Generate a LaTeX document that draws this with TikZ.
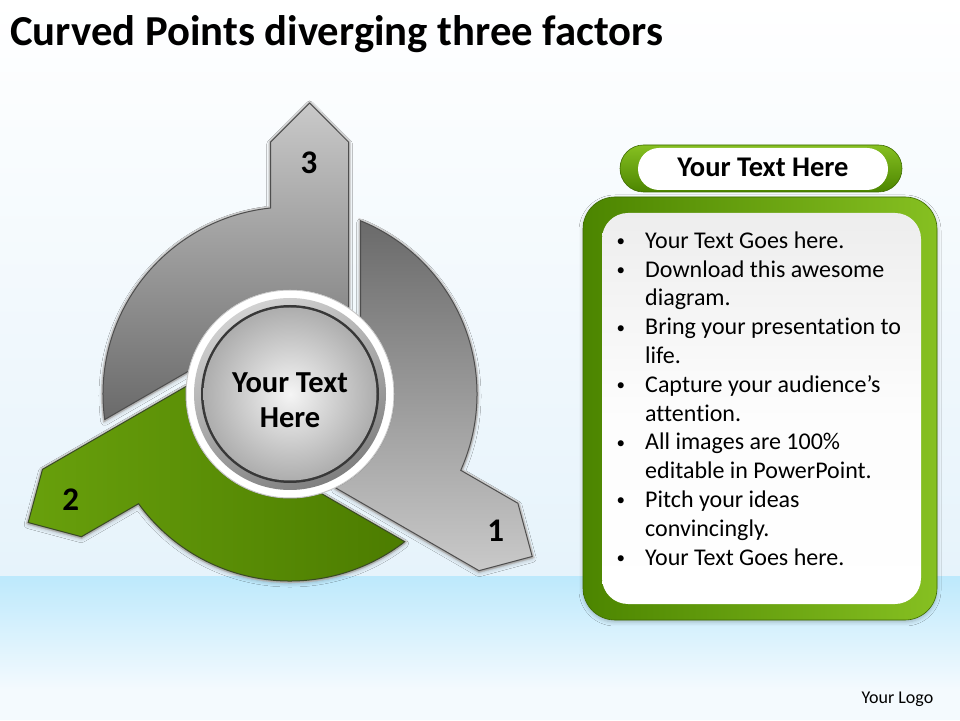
\documentclass[tikz,border=0pt]{standalone}
\usepackage{fontspec}
\setmainfont{Carlito}[Ligatures={NoCommon}]
\usetikzlibrary{shadows.blur}
\definecolor{bgtop}{HTML}{FFFFFF}
\definecolor{bgbot}{HTML}{E6F3FB}
\definecolor{bandA}{HTML}{BDE9FC}
\definecolor{bandB}{HTML}{F4FAFE}
\definecolor{edgegray}{HTML}{4E4E4E}
\definecolor{edgegreen}{HTML}{3A4A26}
\definecolor{halo}{HTML}{D4D4D4}
\definecolor{gLight}{HTML}{C9C9C9}
\definecolor{gMid}{HTML}{9E9E9E}
\definecolor{gDark}{HTML}{6A6A6A}
\definecolor{grA}{HTML}{68A00C}
\definecolor{grB}{HTML}{4C7C00}
\definecolor{panA}{HTML}{4C8500}
\definecolor{panB}{HTML}{86C021}
\tikzset{
  segbase/.style={draw=edgegray, line width=1pt, line join=miter,
    preaction={draw=halo, line width=4pt},
    blur shadow={shadow xshift=0pt, shadow yshift=-2pt, shadow blur radius=4pt, shadow opacity=30}},
  numlabel/.style={font=\fontsize{33}{33}\selectfont\bfseries, inner sep=0pt},
  bullettext/.style={font=\fontsize{24}{28.8}\selectfont, anchor=base west, inner sep=0pt}
}
\newcommand{\smallbul}{\raisebox{1.5pt}{\fontsize{17}{17}\selectfont •}}
\begin{document}
\begin{tikzpicture}[x=1pt,y=1pt]
\useasboundingbox (0,0) rectangle (960,720);
% background
\shade[top color=bgtop, bottom color=bgbot] (0,144) rectangle (960,720);
\shade[top color=bandA, bottom color=bandB] (0,30) rectangle (960,144);
\fill[bandB] (0,0) rectangle (960,30);
% title
\node[anchor=base west, inner sep=0pt, font=\fontsize{42.7}{42.7}\selectfont\bfseries] (title) at (10,674) {Curved Points diverging three factors};
% center
\coordinate (C) at (290,326);
% segment 3 (top, light gray)
\begin{scope}[shift={(C)}]
\shade[segbase, top color=gLight, middle color=gMid, bottom color=gDark]
 (58.5,86) -- (58.5,252) -- (19.6,291) -- (-19.3,252) -- (-19.3,186)
 arc[start angle=95.92, end angle=187.85, radius=187] -- (167.3:104)
 arc[start angle=167.3, end angle=55.77, radius=104] -- cycle;
\end{scope}
% segment 1 (right, gray)
\begin{scope}[shift={(C)}, rotate=240]
\shade[segbase, top color=gDark, middle color=gMid, bottom color=gLight]
 (58.5,86) -- (58.5,252) -- (19.6,291) -- (-19.3,252) -- (-19.3,186)
 arc[start angle=95.92, end angle=187.85, radius=187] -- (167.3:104)
 arc[start angle=167.3, end angle=55.77, radius=104] -- cycle;
\end{scope}
% segment 2 (lower left, green)
\begin{scope}[shift={(C)}, rotate=120]
\shade[segbase, draw=edgegreen, left color=grA, right color=grB]
 (58.5,86) -- (58.5,252) -- (19.6,291) -- (-19.3,252) -- (-19.3,186)
 arc[start angle=95.92, end angle=187.85, radius=187] -- (167.3:104)
 arc[start angle=167.3, end angle=55.77, radius=104] -- cycle;
\end{scope}
% central disc
\fill[white, draw=black!22, line width=1pt] (C) circle (104);
\shade[top color=black!18, bottom color=black!50, shading angle=25] (C) circle (96);
\fill[black!78] (C) circle (89);
\shade[inner color=black!4, outer color=black!32] (C) circle (86.5);
\node[font=\fontsize{30.5}{35}\selectfont\bfseries, align=center, inner sep=0pt] (ctext) at (290,320) {Your Text\\Here};
% numbers
\node[numlabel] (n3) at (309,557) {3};
\node[numlabel] (n2) at (70.7,220.7) {2};
\node[numlabel] (n1) at (495.7,189) {1};
% right header pill
\shade[top color=panB, bottom color=panA, draw=panA!80!black, line width=0.6pt, rounded corners=23.5]
  (620,528) rectangle (902,575);
\fill[white, rounded corners=21] (638,530) rectangle (888,572);
\node[font=\fontsize{28.5}{28.5}\selectfont\bfseries, inner sep=0pt] (head) at (763,552.5) {Your Text Here};
% main panel
\shade[left color=panA, right color=panB, draw=panA!80!black, line width=0.6pt, rounded corners=32,
  blur shadow={shadow xshift=0pt, shadow yshift=-2pt, shadow blur radius=4pt, shadow opacity=25}]
  (583,100) rectangle (937,523);
\shade[top color=black!7, bottom color=white, middle color=white!99!black, rounded corners=26]
  (602,116) rectangle (921,507);
% bullet lines
\foreach \b/\t [count=\i] in {
  1/Your Text Goes here.,
  1/Download this awesome,
  0/diagram.,
  1/Bring your presentation to,
  0/life.,
  1/Capture your audience’s,
  0/attention.,
  1/All images are 100\%,
  0/editable in PowerPoint.,
  1/Pitch your ideas,
  0/convincingly.,
  1/Your Text Goes here.}{
  \node[bullettext] (line\i) at (615,{471.7-(\i-1)*28.8})
    {\makebox[30pt][l]{\hspace{1.5pt}\ifnum\b=1 \smallbul\fi}\t};
}
% logo
\node[font=\fontsize{18}{18}\selectfont, inner sep=0pt] (logo) at (897.5,21) {Your Logo};
\end{tikzpicture}
\end{document}
